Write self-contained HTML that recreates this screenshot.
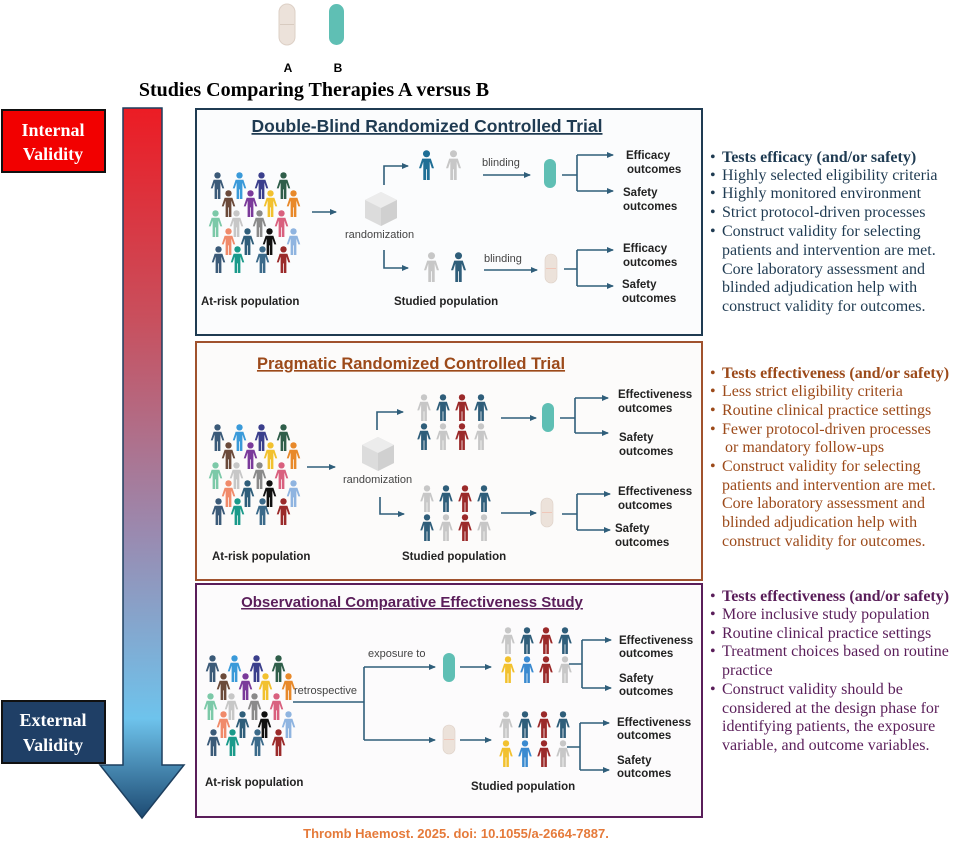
<!DOCTYPE html>
<html><head><meta charset="utf-8"><style>
html,body{margin:0;padding:0;background:#fff;}
svg{display:block;}
.t{font-family:"Liberation Sans",sans-serif;font-weight:bold;font-size:11.5px;fill:#222;}
.n{font-family:"Liberation Sans",sans-serif;font-size:11px;fill:#444;}
.s{font-family:"Liberation Serif",serif;font-size:16px;}
.ln{stroke:#2f5e7a;stroke-width:1.6;fill:none;}
</style></head><body>
<svg width="975" height="855" viewBox="0 0 975 855" xmlns="http://www.w3.org/2000/svg">
<defs>
<linearGradient id="g" x1="0" y1="0" x2="0" y2="1">
<stop offset="0" stop-color="#ec1c24"/><stop offset="0.3" stop-color="#c8505e"/><stop offset="0.6" stop-color="#9a8ab0"/><stop offset="0.86" stop-color="#6ec3ec"/><stop offset="1" stop-color="#1d4a72"/></linearGradient>
<marker id="a" markerWidth="8" markerHeight="8" refX="6" refY="4" orient="auto" markerUnits="userSpaceOnUse"><path d="M0,1 L7,4 L0,7 z" fill="#2f5e7a"/></marker>
<symbol id="p" viewBox="0 0 14 28"><circle cx="7" cy="3.5" r="3.3"/><path d="M3,8 h8 l3,9 h-2 l-2,-6 v17 h-2.6 v-10 h-0.8 v10 h-2.6 v-17 l-2,6 h-2 z"/></symbol>
<g id="crowd">
<use href="#p" x="2" y="0" width="15" height="27" fill="#3b5a78"/>
<use href="#p" x="24" y="0" width="15" height="27" fill="#3a9ad9"/>
<use href="#p" x="46" y="0" width="15" height="27" fill="#3b3f8c"/>
<use href="#p" x="68" y="0" width="15" height="27" fill="#2f5e4a"/>
<use href="#p" x="13" y="18" width="15" height="27" fill="#6b4a3a"/>
<use href="#p" x="35" y="18" width="15" height="27" fill="#7a3a9a"/>
<use href="#p" x="55" y="18" width="15" height="27" fill="#f2c12e"/>
<use href="#p" x="78" y="18" width="15" height="27" fill="#e8892a"/>
<use href="#p" x="0" y="38" width="15" height="27" fill="#7cc9a8"/>
<use href="#p" x="21" y="38" width="15" height="27" fill="#c7c7c7"/>
<use href="#p" x="44" y="38" width="15" height="27" fill="#8a8a8a"/>
<use href="#p" x="66" y="38" width="15" height="27" fill="#d9607e"/>
<use href="#p" x="13" y="56" width="15" height="27" fill="#f08a6a"/>
<use href="#p" x="32" y="56" width="15" height="27" fill="#2f5e7a"/>
<use href="#p" x="54" y="56" width="15" height="27" fill="#111"/>
<use href="#p" x="78" y="56" width="15" height="27" fill="#8fb4e0"/>
<use href="#p" x="3" y="74" width="15" height="27" fill="#3b5a78"/>
<use href="#p" x="22" y="74" width="15" height="27" fill="#1a9a8a"/>
<use href="#p" x="47" y="74" width="15" height="27" fill="#3b6a8a"/>
<use href="#p" x="68" y="74" width="15" height="27" fill="#9b2a2a"/>
</g>
<g id="grpA">
<use href="#p" x="0" y="0" width="14" height="27" fill="#c7c7c7"/>
<use href="#p" x="19" y="0" width="14" height="27" fill="#2f5e7a"/>
<use href="#p" x="38" y="0" width="14" height="27" fill="#9b2a2a"/>
<use href="#p" x="57" y="0" width="14" height="27" fill="#2f5e7a"/>
<use href="#p" x="0" y="29" width="14" height="27" fill="#2f5e7a"/>
<use href="#p" x="19" y="29" width="14" height="27" fill="#c7c7c7"/>
<use href="#p" x="38" y="29" width="14" height="27" fill="#9b2a2a"/>
<use href="#p" x="57" y="29" width="14" height="27" fill="#c7c7c7"/>
</g>
<g id="grpB">
<use href="#p" x="0" y="0" width="14" height="27" fill="#c7c7c7"/>
<use href="#p" x="19" y="0" width="14" height="27" fill="#2f5e7a"/>
<use href="#p" x="38" y="0" width="14" height="27" fill="#9b2a2a"/>
<use href="#p" x="57" y="0" width="14" height="27" fill="#2f5e7a"/>
<use href="#p" x="0" y="29" width="14" height="27" fill="#f2c12e"/>
<use href="#p" x="19" y="29" width="14" height="27" fill="#3a8ad0"/>
<use href="#p" x="38" y="29" width="14" height="27" fill="#9b2a2a"/>
<use href="#p" x="57" y="29" width="14" height="27" fill="#c7c7c7"/>
</g>
<g id="cube"><path d="M0,8 L16,0 L32,8 L32,26 L16,34 L0,26 z" fill="#dcdcdc"/><path d="M0,8 L16,16 L32,8 L16,0 z" fill="#ececec"/><path d="M16,16 L16,34 L32,26 L32,8 z" fill="#d0d0d0"/></g>
<g id="pillA"><rect x="0" y="0" width="12" height="29" rx="6" fill="#ece2da" stroke="#ddd0c6" stroke-width="0.6"/><line x1="1" y1="14.5" x2="11" y2="14.5" stroke="#f2c0b0" stroke-width="0.8"/></g>
<g id="pillB"><rect x="0" y="0" width="12" height="29" rx="6" fill="#5fbfb4"/></g>
</defs>

<rect x="279" y="4" width="16" height="41" rx="8" fill="#ece2da" stroke="#ddd0c6"/>
<line x1="280" y1="24.5" x2="294" y2="24.5" stroke="#d8cbc0"/>
<rect x="329" y="4" width="15" height="41" rx="7.5" fill="#5fbfb4"/>
<text x="288" y="72" text-anchor="middle" style="font-family:'Liberation Sans',sans-serif;font-weight:bold;font-size:12px">A</text>
<text x="338" y="72" text-anchor="middle" style="font-family:'Liberation Sans',sans-serif;font-weight:bold;font-size:12px">B</text>
<text x="314" y="96" text-anchor="middle" style="font-family:'Liberation Serif',serif;font-weight:bold;font-size:20px">Studies Comparing Therapies A versus B</text>

<path d="M123,108 H162 V765 H184 L142,818 L100,765 H123 z" fill="url(#g)" stroke="#1d3f5f" stroke-width="1.5"/>
<rect x="2" y="110" width="103" height="62" fill="#f20000" stroke="#111" stroke-width="2"/>
<text x="53" y="136" text-anchor="middle" style="font-family:'Liberation Serif',serif;font-weight:bold;font-size:18px;fill:#fff">Internal</text>
<text x="53" y="160" text-anchor="middle" style="font-family:'Liberation Serif',serif;font-weight:bold;font-size:18px;fill:#fff">Validity</text>
<rect x="2" y="701" width="103" height="62" fill="#1f3f66" stroke="#111" stroke-width="2"/>
<text x="53" y="726" text-anchor="middle" style="font-family:'Liberation Serif',serif;font-weight:bold;font-size:18px;fill:#fff">External</text>
<text x="53" y="751" text-anchor="middle" style="font-family:'Liberation Serif',serif;font-weight:bold;font-size:18px;fill:#fff">Validity</text>

<!-- Panel 1 -->
<rect x="196" y="109" width="506" height="226" fill="#fbfcfd" stroke="#1f3b52" stroke-width="2"/>
<text x="427" y="132" text-anchor="middle" text-decoration="underline" style="font-family:'Liberation Sans',sans-serif;font-weight:bold;font-size:17.5px;fill:#1f3b52">Double-Blind Randomized Controlled Trial</text>
<use href="#crowd" x="208" y="172"/>
<line class="ln" x1="312" y1="212" x2="336" y2="212" marker-end="url(#a)"/>
<use href="#cube" x="365" y="192"/>
<text class="n" x="345" y="238">randomization</text>
<path class="ln" d="M384,185 V166 H408" marker-end="url(#a)"/>
<path class="ln" d="M384,250 V268 H408" marker-end="url(#a)"/>
<use href="#p" x="419" y="150" width="15" height="30" fill="#1f6f96"/>
<use href="#p" x="446" y="150" width="15" height="30" fill="#c7c7c7"/>
<use href="#p" x="424" y="252" width="15" height="30" fill="#c7c7c7"/>
<use href="#p" x="451" y="252" width="15" height="30" fill="#2f5e7a"/>
<text class="n" x="482" y="166">blinding</text>
<line class="ln" x1="483" y1="175" x2="530" y2="175" marker-end="url(#a)"/>
<text class="n" x="484" y="262">blinding</text>
<line class="ln" x1="484" y1="270" x2="537" y2="270" marker-end="url(#a)"/>
<use href="#pillB" x="544" y="159"/>
<use href="#pillA" x="545" y="254"/>
<path class="ln" d="M562,175 H577 M577,155 V191"/>
<line class="ln" x1="577" y1="155" x2="613" y2="155" marker-end="url(#a)"/>
<line class="ln" x1="577" y1="191" x2="613" y2="191" marker-end="url(#a)"/>
<path class="ln" d="M564,269 H577 M577,250 V286"/>
<line class="ln" x1="577" y1="250" x2="613" y2="250" marker-end="url(#a)"/>
<line class="ln" x1="577" y1="286" x2="613" y2="286" marker-end="url(#a)"/>
<text class="t" x="626" y="159">Efficacy</text><text class="t" x="627" y="173">outcomes</text>
<text class="t" x="623" y="196">Safety</text><text class="t" x="623" y="210">outcomes</text>
<text class="t" x="623" y="252">Efficacy</text><text class="t" x="623" y="266">outcomes</text>
<text class="t" x="622" y="288">Safety</text><text class="t" x="622" y="302">outcomes</text>
<text class="t" x="201" y="305">At-risk population</text>
<text class="t" x="394" y="305">Studied population</text>

<g class="s" style="fill:#1f3b52">
<text x="710" y="162">•</text><text x="722" y="162" font-weight="bold">Tests efficacy (and/or safety)</text>
<text x="710" y="180">•</text><text x="722" y="180">Highly selected eligibility criteria</text>
<text x="710" y="198">•</text><text x="722" y="198">Highly monitored environment</text>
<text x="710" y="217">•</text><text x="722" y="217">Strict protocol-driven processes</text>
<text x="710" y="236">•</text><text x="722" y="236">Construct validity for selecting</text>
<text x="722" y="255">patients and intervention are met.</text>
<text x="722" y="274">Core laboratory assessment and</text>
<text x="722" y="292">blinded adjudication help with</text>
<text x="722" y="311">construct validity for outcomes.</text>
</g>

<!-- Panel 2 -->
<rect x="196" y="342" width="506" height="238" fill="#fcfbfa" stroke="#a0522d" stroke-width="2"/>
<text x="411" y="369" text-anchor="middle" text-decoration="underline" style="font-family:'Liberation Sans',sans-serif;font-weight:bold;font-size:16.5px;fill:#9c4a1a">Pragmatic Randomized Controlled Trial</text>
<use href="#crowd" x="208" y="424"/>
<line class="ln" x1="307" y1="467" x2="335" y2="467" marker-end="url(#a)"/>
<use href="#cube" x="362" y="437"/>
<text class="n" x="343" y="483">randomization</text>
<path class="ln" d="M377,430 V412 H403" marker-end="url(#a)"/>
<path class="ln" d="M380,497 V514 H404" marker-end="url(#a)"/>
<use href="#grpA" x="417" y="394"/>
<use href="#grpA" x="420" y="485"/>
<line class="ln" x1="501" y1="418" x2="536" y2="418" marker-end="url(#a)"/>
<line class="ln" x1="501" y1="513" x2="536" y2="513" marker-end="url(#a)"/>
<use href="#pillB" x="542" y="403"/>
<use href="#pillA" x="541" y="498"/>
<path class="ln" d="M560,418 H575 M575,398 V433"/>
<line class="ln" x1="575" y1="398" x2="608" y2="398" marker-end="url(#a)"/>
<line class="ln" x1="575" y1="433" x2="608" y2="433" marker-end="url(#a)"/>
<path class="ln" d="M562,514 H577 M577,494 V530"/>
<line class="ln" x1="577" y1="494" x2="610" y2="494" marker-end="url(#a)"/>
<line class="ln" x1="577" y1="530" x2="610" y2="530" marker-end="url(#a)"/>
<text class="t" x="618" y="398">Effectiveness</text><text class="t" x="618" y="412">outcomes</text>
<text class="t" x="619" y="441">Safety</text><text class="t" x="619" y="455">outcomes</text>
<text class="t" x="618" y="495">Effectiveness</text><text class="t" x="618" y="509">outcomes</text>
<text class="t" x="615" y="532">Safety</text><text class="t" x="615" y="546">outcomes</text>
<text class="t" x="212" y="560">At-risk population</text>
<text class="t" x="402" y="560">Studied population</text>

<g class="s" style="fill:#9c4a1a">
<text x="710" y="378">•</text><text x="722" y="378" font-weight="bold">Tests effectiveness (and/or safety)</text>
<text x="710" y="396">•</text><text x="722" y="396">Less strict eligibility criteria</text>
<text x="710" y="415">•</text><text x="722" y="415">Routine clinical practice settings</text>
<text x="710" y="434">•</text><text x="722" y="434">Fewer protocol-driven processes</text>
<text x="725" y="452">or mandatory follow-ups</text>
<text x="710" y="471">•</text><text x="722" y="471">Construct validity for selecting</text>
<text x="722" y="490">patients and intervention are met.</text>
<text x="722" y="508">Core laboratory assessment and</text>
<text x="722" y="527">blinded adjudication help with</text>
<text x="722" y="546">construct validity for outcomes.</text>
</g>

<!-- Panel 3 -->
<rect x="196" y="584" width="506" height="233" fill="#fcfbfc" stroke="#5a1e5a" stroke-width="2"/>
<text x="412" y="607" text-anchor="middle" text-decoration="underline" style="font-family:'Liberation Sans',sans-serif;font-weight:bold;font-size:15px;fill:#5a1e5a">Observational Comparative Effectiveness Study</text>
<use href="#crowd" x="203" y="655"/>
<text class="n" x="294" y="694">retrospective</text>
<path class="ln" d="M293,702 H364 M364,667 V740"/>
<line class="ln" x1="364" y1="667" x2="435" y2="667" marker-end="url(#a)"/>
<line class="ln" x1="364" y1="740" x2="435" y2="740" marker-end="url(#a)"/>
<text class="n" x="368" y="657">exposure to</text>
<use href="#pillB" x="443" y="653"/>
<use href="#pillA" x="443" y="725"/>
<line class="ln" x1="460" y1="667" x2="491" y2="667" marker-end="url(#a)"/>
<line class="ln" x1="460" y1="740" x2="491" y2="740" marker-end="url(#a)"/>
<use href="#grpB" x="501" y="627"/>
<use href="#grpB" x="499" y="711"/>
<path class="ln" d="M569,664 H582 M582,640 V688"/>
<line class="ln" x1="582" y1="640" x2="611" y2="640" marker-end="url(#a)"/>
<line class="ln" x1="582" y1="688" x2="611" y2="688" marker-end="url(#a)"/>
<path class="ln" d="M567,747 H580 M580,723 V770"/>
<line class="ln" x1="580" y1="723" x2="609" y2="723" marker-end="url(#a)"/>
<line class="ln" x1="580" y1="770" x2="609" y2="770" marker-end="url(#a)"/>
<text class="t" x="619" y="644">Effectiveness</text><text class="t" x="619" y="657">outcomes</text>
<text class="t" x="619" y="682">Safety</text><text class="t" x="619" y="695">outcomes</text>
<text class="t" x="617" y="726">Effectiveness</text><text class="t" x="617" y="739">outcomes</text>
<text class="t" x="617" y="764">Safety</text><text class="t" x="617" y="777">outcomes</text>
<text class="t" x="205" y="786">At-risk population</text>
<text class="t" x="471" y="790">Studied population</text>

<g class="s" style="fill:#5a1e5a">
<text x="710" y="601">•</text><text x="722" y="601" font-weight="bold">Tests effectiveness (and/or safety)</text>
<text x="710" y="619">•</text><text x="722" y="619">More inclusive study population</text>
<text x="710" y="638">•</text><text x="722" y="638">Routine clinical practice settings</text>
<text x="710" y="656">•</text><text x="722" y="656">Treatment choices based on routine</text>
<text x="722" y="675">practice</text>
<text x="710" y="694">•</text><text x="722" y="694">Construct validity should be</text>
<text x="722" y="713">considered at the design phase for</text>
<text x="722" y="731">identifying patients, the exposure</text>
<text x="722" y="750">variable, and outcome variables.</text>
</g>

<text x="456" y="838" text-anchor="middle" style="font-family:'Liberation Sans',sans-serif;font-weight:bold;font-size:13px;fill:#e57a3a">Thromb Haemost. 2025. doi: 10.1055/a-2664-7887.</text>
</svg>
</body></html>
